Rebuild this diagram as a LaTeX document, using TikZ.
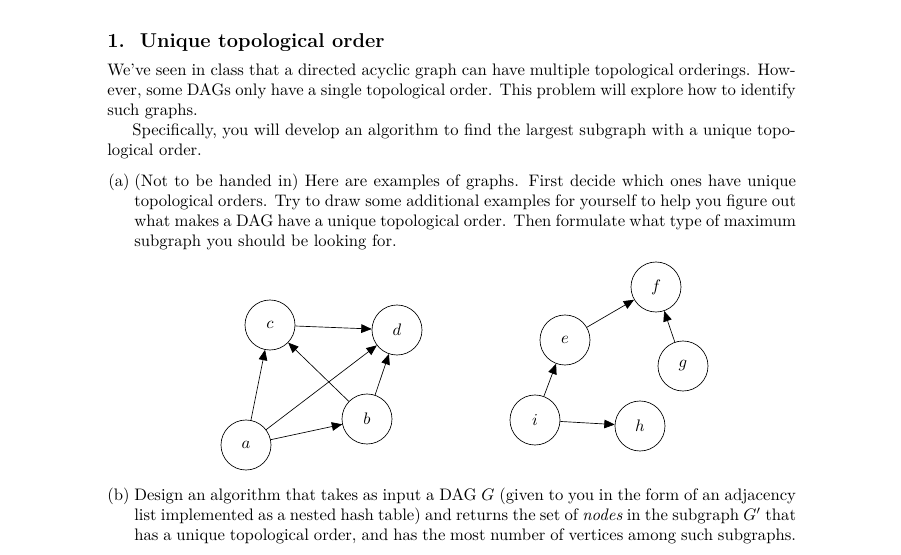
\documentclass[tikz,border=0pt]{standalone}
\usepackage{amsmath}
\usepackage{tikz}
\usetikzlibrary{arrows}

\begin{document}
\begin{tikzpicture}[x=0.6pt,y=-0.6pt,>=triangle 45,
	vertex/.style={draw,circle,minimum size=30pt,inner sep=0pt},
	prose/.style={anchor=north west,inner sep=0pt,align=justify,font=\fontsize{10}{12}\selectfont}]
	\useasboundingbox (0,0) rectangle (901,555);

	% text
	\node[anchor=north west,inner sep=0pt,font=\large\bfseries] (title) at (107,33) {1.\ \ Unique topological order};
	\node[prose,text width=413pt] (intro) at (107,64) {We've seen in class that a directed acyclic graph can have multiple topological orderings. However, some DAGs only have a single topological order. This problem will explore how to identify such graphs.\par
	\hspace*{15pt}Specifically, you will develop an algorithm to find the largest subgraph with a unique topological order.};
	\node[prose,text width=397pt] (parta) at (134,174) {(Not to be handed in) Here are examples of graphs. First decide which ones have unique topological orders. Try to draw some additional examples for yourself to help you figure out what makes a DAG have a unique topological order. Then formulate what type of maximum subgraph you should be looking for.};
	\node[prose,anchor=north east] (la) at (130,174) {(a)};
	\node[prose,text width=397pt] (partb) at (134,488) {Design an algorithm that takes as input a DAG $G$ (given to you in the form of an adjacency list implemented as a nested hash table) and returns the set of \emph{nodes} in the subgraph $G'$ that has a unique topological order, and has the most number of vertices among such subgraphs.};
	\node[prose,anchor=north east] (lb) at (130,488) {(b)};

	% first graph
	\node[vertex] (a) at (246,445) {$a$};
	\node[vertex] (b) at (367,419) {$b$};
	\node[vertex] (c) at (270,325) {$c$};
	\node[vertex] (d) at (397,330) {$d$};
	\draw[->] (a) -- (c);
	\draw[->] (a) -- (d);
	\draw[->] (a) -- (b);
	\draw[->] (b) -- (c);
	\draw[->] (b) -- (d);
	\draw[->] (c) -- (d);

	% second graph
	\node[vertex] (e) at (565,340) {$e$};
	\node[vertex] (f) at (656,287) {$f$};
	\node[vertex] (g) at (683,366) {$g$};
	\node[vertex] (h) at (640,426) {$h$};
	\node[vertex] (i) at (535,420) {$i$};
	\draw[->] (i) -- (e);
	\draw[->] (e) -- (f);
	\draw[->] (g) -- (f);
	\draw[->] (i) -- (h);
\end{tikzpicture}
\end{document}
